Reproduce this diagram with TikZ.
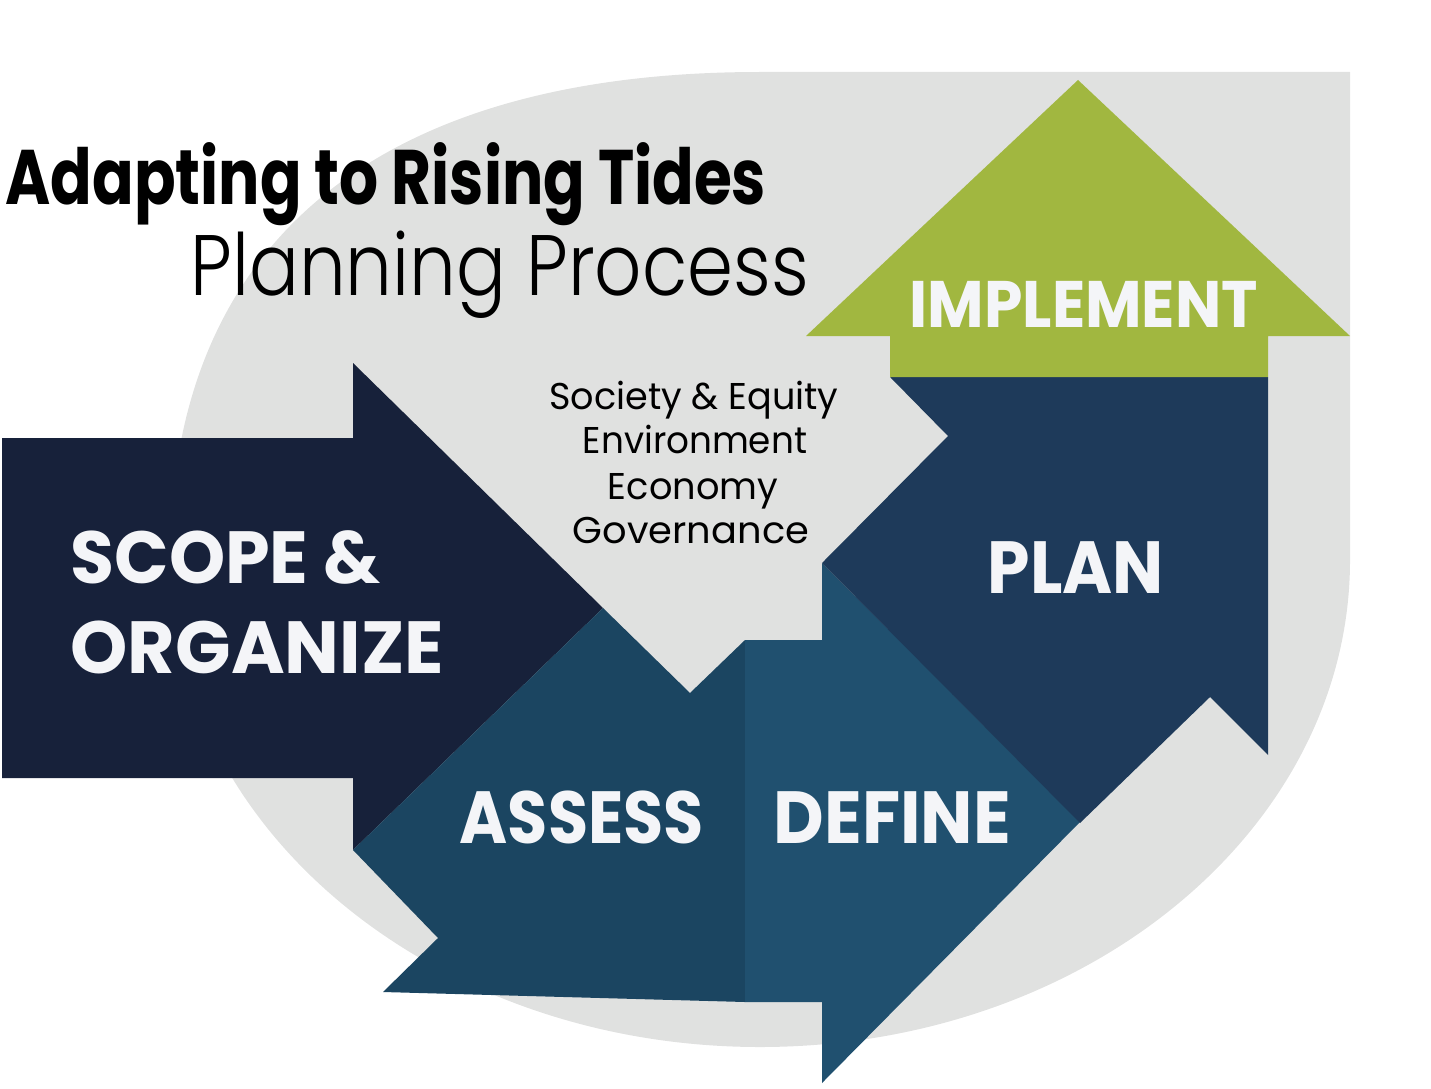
\documentclass[tikz,border=0pt]{standalone}
\usepackage{fontspec}
\usepackage{graphicx}
\setmainfont{Poppins}
\IfFontExistsTF{Poppins Light}{\newfontfamily\thinfont{Poppins Light}}{\newfontfamily\thinfont{Poppins}}

\definecolor{bgGrey}{HTML}{E0E1E0}
\definecolor{scopeBlue}{HTML}{17213A}
\definecolor{assessBlue}{HTML}{1B4561}
\definecolor{defineBlue}{HTML}{20506F}
\definecolor{planBlue}{HTML}{1E3A5A}
\definecolor{implGreen}{HTML}{A1B740}
\definecolor{labelWhite}{HTML}{F4F5F8}

% squeeze a text sideways to a given width
\newsavebox\fitbox
\newlength\fitlen
\newcommand{\fitwidth}[2]{\sbox\fitbox{#2}\setlength\fitlen{\wd\fitbox}%
  \pgfmathsetmacro\fitratio{#1/\fitlen}\scalebox{\fitratio}[1]{\usebox\fitbox}}

\tikzset{
  steplabel/.style={text=labelWhite, inner sep=0pt, anchor=base west,
    font=\bfseries\fontsize{21}{25.6}\selectfont},
  pillar/.style={inner sep=0pt, anchor=base, font=\fontsize{10.6}{12}\selectfont},
}

\begin{document}
\begin{tikzpicture}[x=0.01cm, y=-0.01cm]
  \useasboundingbox (0,0) rectangle (1431,1088);

  % background leaf
  \fill[bgGrey] (1350,72) -- (1350,560) .. controls (1350,829) and (1086,1047) .. (760,1047)
    .. controls (434,1047) and (170,829) .. (170,560)
    .. controls (170,243) and (377,72) .. (760,72) -- cycle;

  % arrows
  \fill[scopeBlue] (2,438) -- (353,438) -- (353,363) -- (603,608) -- (353,850) -- (353,778) -- (2,778) -- cycle;
  \fill[assessBlue] (603,608) -- (690,693) -- (745,640) -- (745,1002) -- (383,992) -- (438,938) -- (353,850) -- cycle;
  \fill[defineBlue] (745,640) -- (822,640) -- (822,563) -- (1080,822) -- (822,1083) -- (822,1002) -- (745,1002) -- cycle;
  \fill[planBlue] (890,377) -- (1268,377) -- (1268,755) -- (1210,697) -- (1080,823) -- (822,563) -- (948,436) -- cycle;
  \fill[implGreen] (1078,80) -- (1350,336) -- (1268,336) -- (1268,377) -- (890,377) -- (890,336) -- (806,336) -- cycle;

  % titles
  \node[inner sep=0pt, anchor=base west] (title) at (5,204)
    {\fitwidth{7.60cm}{\bfseries\fontsize{22}{26}\selectfont Adapting to Rising Tides}};
  \node[inner sep=0pt, anchor=base west] (subtitle) at (190,295)
    {\fitwidth{6.18cm}{\thinfont\fontsize{24.4}{28}\selectfont Planning Process}};

  % steps
  \node[steplabel] (scope) at (70,583) {\fitwidth{3.10cm}{SCOPE \&}};
  \node[steplabel] (organize) at (70,673) {\fitwidth{3.73cm}{ORGANIZE}};
  \node[steplabel] (assess) at (459,843) {\fitwidth{2.44cm}{ASSESS}};
  \node[steplabel] (define) at (773,843) {\fitwidth{2.37cm}{DEFINE}};
  \node[steplabel] (plan) at (987,593) {\fitwidth{1.76cm}{PLAN}};
  \node[steplabel, font=\bfseries\fontsize{18.7}{22}\selectfont] (implement) at (909,327) {\fitwidth{3.48cm}{IMPLEMENT}};

  % pillars
  \node[pillar] (society) at (694,409) {\fitwidth{2.89cm}{Society \& Equity}};
  \node[pillar] (environment) at (695,453) {\fitwidth{2.24cm}{Environment}};
  \node[pillar] (economy) at (693,499) {\fitwidth{1.70cm}{Economy}};
  \node[pillar] (governance) at (691,543) {\fitwidth{2.36cm}{Governance}};
\end{tikzpicture}
\end{document}
